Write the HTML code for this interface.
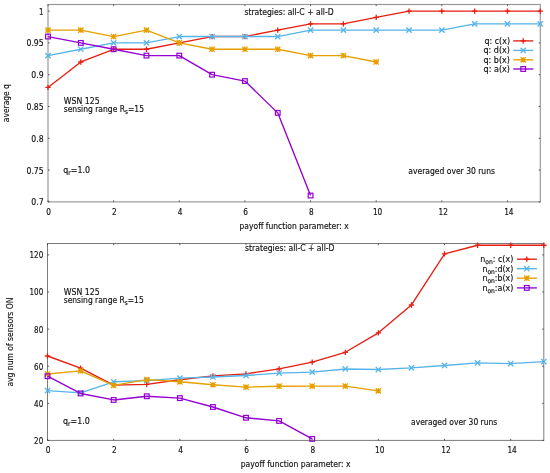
<!DOCTYPE html>
<html><head><meta charset="utf-8"><title>plots</title>
<style>
html,body{margin:0;padding:0;background:#fff;}
svg{display:block;}
text{font-family:"DejaVu Sans Condensed","Liberation Sans",sans-serif;font-size:8.8px;fill:#111;stroke:#111;stroke-width:0.15px;}
</style></head><body>
<svg width="550" height="473" viewBox="0 0 550 473">
<rect width="550" height="473" fill="#fff"/>
<rect x="48.0" y="4.5" width="492.30" height="197.40" fill="none" stroke="#969696" stroke-width="1.15"/>
<text x="43.60" y="205.30" text-anchor="end" textLength="12.30" lengthAdjust="spacingAndGlyphs">0.7</text>
<text x="43.60" y="173.50" text-anchor="end" textLength="17.10" lengthAdjust="spacingAndGlyphs">0.75</text>
<text x="43.60" y="141.70" text-anchor="end" textLength="12.30" lengthAdjust="spacingAndGlyphs">0.8</text>
<text x="43.60" y="109.90" text-anchor="end" textLength="17.10" lengthAdjust="spacingAndGlyphs">0.85</text>
<text x="43.60" y="78.10" text-anchor="end" textLength="12.30" lengthAdjust="spacingAndGlyphs">0.9</text>
<text x="43.60" y="46.30" text-anchor="end" textLength="17.10" lengthAdjust="spacingAndGlyphs">0.95</text>
<text x="43.60" y="14.50" text-anchor="end" textLength="4.50" lengthAdjust="spacingAndGlyphs">1</text>
<text x="48.70" y="214.60" text-anchor="middle" textLength="4.70" lengthAdjust="spacingAndGlyphs">0</text>
<text x="114.34" y="214.60" text-anchor="middle" textLength="4.70" lengthAdjust="spacingAndGlyphs">2</text>
<text x="179.98" y="214.60" text-anchor="middle" textLength="4.70" lengthAdjust="spacingAndGlyphs">4</text>
<text x="245.62" y="214.60" text-anchor="middle" textLength="4.70" lengthAdjust="spacingAndGlyphs">6</text>
<text x="311.26" y="214.60" text-anchor="middle" textLength="4.70" lengthAdjust="spacingAndGlyphs">8</text>
<text x="377.60" y="214.60" text-anchor="middle" textLength="9.40" lengthAdjust="spacingAndGlyphs">10</text>
<text x="443.24" y="214.60" text-anchor="middle" textLength="9.40" lengthAdjust="spacingAndGlyphs">12</text>
<text x="508.88" y="214.60" text-anchor="middle" textLength="9.40" lengthAdjust="spacingAndGlyphs">14</text>
<path d="M48.0 201.90h1.6M540.3 201.90h-1.6M48.0 170.10h1.6M540.3 170.10h-1.6M48.0 138.30h1.6M540.3 138.30h-1.6M48.0 106.50h1.6M540.3 106.50h-1.6M48.0 74.70h1.6M540.3 74.70h-1.6M48.0 42.90h1.6M540.3 42.90h-1.6M48.0 11.10h1.6M540.3 11.10h-1.6M48.00 201.9v-1.6M48.00 4.5v1.6M113.64 201.9v-1.6M113.64 4.5v1.6M179.28 201.9v-1.6M179.28 4.5v1.6M244.92 201.9v-1.6M244.92 4.5v1.6M310.56 201.9v-1.6M310.56 4.5v1.6M376.20 201.9v-1.6M376.20 4.5v1.6M441.84 201.9v-1.6M441.84 4.5v1.6M507.48 201.9v-1.6M507.48 4.5v1.6" stroke="#333" stroke-width="0.8" fill="none"/>
<path d="M48.00 87.42L80.82 61.98L113.64 49.26L146.46 49.26L179.28 42.90L212.10 36.54L244.92 36.54L277.74 30.18L310.56 23.82L343.38 23.82L376.20 17.46L409.02 11.10L441.84 11.10L474.66 11.10L507.48 11.10L540.30 11.10" stroke="#E51E10" stroke-width="1.35" fill="none" stroke-linejoin="round"/>
<path d="M45.35 87.42H50.65M48.00 84.77V90.07" stroke="#E51E10" stroke-width="1.3" fill="none"/>
<path d="M78.17 61.98H83.47M80.82 59.33V64.63" stroke="#E51E10" stroke-width="1.3" fill="none"/>
<path d="M110.99 49.26H116.29M113.64 46.61V51.91" stroke="#E51E10" stroke-width="1.3" fill="none"/>
<path d="M143.81 49.26H149.11M146.46 46.61V51.91" stroke="#E51E10" stroke-width="1.3" fill="none"/>
<path d="M176.63 42.90H181.93M179.28 40.25V45.55" stroke="#E51E10" stroke-width="1.3" fill="none"/>
<path d="M209.45 36.54H214.75M212.10 33.89V39.19" stroke="#E51E10" stroke-width="1.3" fill="none"/>
<path d="M242.27 36.54H247.57M244.92 33.89V39.19" stroke="#E51E10" stroke-width="1.3" fill="none"/>
<path d="M275.09 30.18H280.39M277.74 27.53V32.83" stroke="#E51E10" stroke-width="1.3" fill="none"/>
<path d="M307.91 23.82H313.21M310.56 21.17V26.47" stroke="#E51E10" stroke-width="1.3" fill="none"/>
<path d="M340.73 23.82H346.03M343.38 21.17V26.47" stroke="#E51E10" stroke-width="1.3" fill="none"/>
<path d="M373.55 17.46H378.85M376.20 14.81V20.11" stroke="#E51E10" stroke-width="1.3" fill="none"/>
<path d="M406.37 11.10H411.67M409.02 8.45V13.75" stroke="#E51E10" stroke-width="1.3" fill="none"/>
<path d="M439.19 11.10H444.49M441.84 8.45V13.75" stroke="#E51E10" stroke-width="1.3" fill="none"/>
<path d="M472.01 11.10H477.31M474.66 8.45V13.75" stroke="#E51E10" stroke-width="1.3" fill="none"/>
<path d="M504.83 11.10H510.13M507.48 8.45V13.75" stroke="#E51E10" stroke-width="1.3" fill="none"/>
<path d="M537.65 11.10H542.95M540.30 8.45V13.75" stroke="#E51E10" stroke-width="1.3" fill="none"/>
<path d="M48.00 55.62L80.82 49.26L113.64 42.90L146.46 42.90L179.28 36.54L212.10 36.54L244.92 36.54L277.74 36.54L310.56 30.18L343.38 30.18L376.20 30.18L409.02 30.18L441.84 30.18L474.66 23.82L507.48 23.82L540.30 23.82" stroke="#56B4E9" stroke-width="1.35" fill="none" stroke-linejoin="round"/>
<path d="M45.35 52.97L50.65 58.27M45.35 58.27L50.65 52.97" stroke="#56B4E9" stroke-width="1.3" fill="none"/>
<path d="M78.17 46.61L83.47 51.91M78.17 51.91L83.47 46.61" stroke="#56B4E9" stroke-width="1.3" fill="none"/>
<path d="M110.99 40.25L116.29 45.55M110.99 45.55L116.29 40.25" stroke="#56B4E9" stroke-width="1.3" fill="none"/>
<path d="M143.81 40.25L149.11 45.55M143.81 45.55L149.11 40.25" stroke="#56B4E9" stroke-width="1.3" fill="none"/>
<path d="M176.63 33.89L181.93 39.19M176.63 39.19L181.93 33.89" stroke="#56B4E9" stroke-width="1.3" fill="none"/>
<path d="M209.45 33.89L214.75 39.19M209.45 39.19L214.75 33.89" stroke="#56B4E9" stroke-width="1.3" fill="none"/>
<path d="M242.27 33.89L247.57 39.19M242.27 39.19L247.57 33.89" stroke="#56B4E9" stroke-width="1.3" fill="none"/>
<path d="M275.09 33.89L280.39 39.19M275.09 39.19L280.39 33.89" stroke="#56B4E9" stroke-width="1.3" fill="none"/>
<path d="M307.91 27.53L313.21 32.83M307.91 32.83L313.21 27.53" stroke="#56B4E9" stroke-width="1.3" fill="none"/>
<path d="M340.73 27.53L346.03 32.83M340.73 32.83L346.03 27.53" stroke="#56B4E9" stroke-width="1.3" fill="none"/>
<path d="M373.55 27.53L378.85 32.83M373.55 32.83L378.85 27.53" stroke="#56B4E9" stroke-width="1.3" fill="none"/>
<path d="M406.37 27.53L411.67 32.83M406.37 32.83L411.67 27.53" stroke="#56B4E9" stroke-width="1.3" fill="none"/>
<path d="M439.19 27.53L444.49 32.83M439.19 32.83L444.49 27.53" stroke="#56B4E9" stroke-width="1.3" fill="none"/>
<path d="M472.01 21.17L477.31 26.47M472.01 26.47L477.31 21.17" stroke="#56B4E9" stroke-width="1.3" fill="none"/>
<path d="M504.83 21.17L510.13 26.47M504.83 26.47L510.13 21.17" stroke="#56B4E9" stroke-width="1.3" fill="none"/>
<path d="M537.65 21.17L542.95 26.47M537.65 26.47L542.95 21.17" stroke="#56B4E9" stroke-width="1.3" fill="none"/>
<path d="M48.00 30.18L80.82 30.18L113.64 36.54L146.46 30.18L179.28 42.90L212.10 49.26L244.92 49.26L277.74 49.26L310.56 55.62L343.38 55.62L376.20 61.98" stroke="#E69F00" stroke-width="1.35" fill="none" stroke-linejoin="round"/>
<path d="M45.35 30.18H50.65M48.00 27.53V32.83M45.35 27.53L50.65 32.83M45.35 32.83L50.65 27.53" stroke="#E69F00" stroke-width="1.3" fill="none"/>
<path d="M78.17 30.18H83.47M80.82 27.53V32.83M78.17 27.53L83.47 32.83M78.17 32.83L83.47 27.53" stroke="#E69F00" stroke-width="1.3" fill="none"/>
<path d="M110.99 36.54H116.29M113.64 33.89V39.19M110.99 33.89L116.29 39.19M110.99 39.19L116.29 33.89" stroke="#E69F00" stroke-width="1.3" fill="none"/>
<path d="M143.81 30.18H149.11M146.46 27.53V32.83M143.81 27.53L149.11 32.83M143.81 32.83L149.11 27.53" stroke="#E69F00" stroke-width="1.3" fill="none"/>
<path d="M176.63 42.90H181.93M179.28 40.25V45.55M176.63 40.25L181.93 45.55M176.63 45.55L181.93 40.25" stroke="#E69F00" stroke-width="1.3" fill="none"/>
<path d="M209.45 49.26H214.75M212.10 46.61V51.91M209.45 46.61L214.75 51.91M209.45 51.91L214.75 46.61" stroke="#E69F00" stroke-width="1.3" fill="none"/>
<path d="M242.27 49.26H247.57M244.92 46.61V51.91M242.27 46.61L247.57 51.91M242.27 51.91L247.57 46.61" stroke="#E69F00" stroke-width="1.3" fill="none"/>
<path d="M275.09 49.26H280.39M277.74 46.61V51.91M275.09 46.61L280.39 51.91M275.09 51.91L280.39 46.61" stroke="#E69F00" stroke-width="1.3" fill="none"/>
<path d="M307.91 55.62H313.21M310.56 52.97V58.27M307.91 52.97L313.21 58.27M307.91 58.27L313.21 52.97" stroke="#E69F00" stroke-width="1.3" fill="none"/>
<path d="M340.73 55.62H346.03M343.38 52.97V58.27M340.73 52.97L346.03 58.27M340.73 58.27L346.03 52.97" stroke="#E69F00" stroke-width="1.3" fill="none"/>
<path d="M373.55 61.98H378.85M376.20 59.33V64.63M373.55 59.33L378.85 64.63M373.55 64.63L378.85 59.33" stroke="#E69F00" stroke-width="1.3" fill="none"/>
<path d="M48.00 36.54L80.82 42.90L113.64 49.26L146.46 55.62L179.28 55.62L212.10 74.70L244.92 81.06L277.74 112.86L310.56 195.54" stroke="#9400D3" stroke-width="1.35" fill="none" stroke-linejoin="round"/>
<rect x="45.65" y="34.19" width="4.70" height="4.70" stroke="#9400D3" stroke-width="1.2" fill="none"/>
<rect x="78.47" y="40.55" width="4.70" height="4.70" stroke="#9400D3" stroke-width="1.2" fill="none"/>
<rect x="111.29" y="46.91" width="4.70" height="4.70" stroke="#9400D3" stroke-width="1.2" fill="none"/>
<rect x="144.11" y="53.27" width="4.70" height="4.70" stroke="#9400D3" stroke-width="1.2" fill="none"/>
<rect x="176.93" y="53.27" width="4.70" height="4.70" stroke="#9400D3" stroke-width="1.2" fill="none"/>
<rect x="209.75" y="72.35" width="4.70" height="4.70" stroke="#9400D3" stroke-width="1.2" fill="none"/>
<rect x="242.57" y="78.71" width="4.70" height="4.70" stroke="#9400D3" stroke-width="1.2" fill="none"/>
<rect x="275.39" y="110.51" width="4.70" height="4.70" stroke="#9400D3" stroke-width="1.2" fill="none"/>
<rect x="308.21" y="193.19" width="4.70" height="4.70" stroke="#9400D3" stroke-width="1.2" fill="none"/>
<text x="244.40" y="14.55" textLength="89.20" lengthAdjust="spacingAndGlyphs">strategies: all-C + all-D</text>
<text x="63.70" y="103.65" textLength="36.00" lengthAdjust="spacingAndGlyphs">WSN 125</text>
<text x="63.70" y="111.85" textLength="80.30" lengthAdjust="spacingAndGlyphs">sensing range R<tspan font-size="6.6" dy="1.9">s</tspan><tspan dy="-1.9">=15</tspan></text>
<text x="63.30" y="173.25" textLength="26.70" lengthAdjust="spacingAndGlyphs">q<tspan font-size="6.6" dy="1.9">r</tspan><tspan dy="-1.9">=1.0</tspan></text>
<text x="408.30" y="173.55" textLength="86.70" lengthAdjust="spacingAndGlyphs">averaged over 30 runs</text>
<text x="239.50" y="228.95" textLength="109.20" lengthAdjust="spacingAndGlyphs">payoff function parameter: x</text>
<text transform="translate(8.90,122.20) rotate(-90)" textLength="38.10" lengthAdjust="spacingAndGlyphs">average q</text>
<text x="510.00" y="43.90" text-anchor="end" textLength="25.50" lengthAdjust="spacingAndGlyphs">q: c(x)</text>
<path d="M513.2 40.90H533.3" stroke="#E51E10" stroke-width="1.35"/>
<path d="M520.55 40.90H525.85M523.20 38.25V43.55" stroke="#E51E10" stroke-width="1.3" fill="none"/>
<text x="510.00" y="53.40" text-anchor="end" textLength="26.50" lengthAdjust="spacingAndGlyphs">q: d(x)</text>
<path d="M513.2 50.40H533.3" stroke="#56B4E9" stroke-width="1.35"/>
<path d="M520.55 47.75L525.85 53.05M520.55 53.05L525.85 47.75" stroke="#56B4E9" stroke-width="1.3" fill="none"/>
<text x="510.00" y="62.80" text-anchor="end" textLength="26.50" lengthAdjust="spacingAndGlyphs">q: b(x)</text>
<path d="M513.2 59.80H533.3" stroke="#E69F00" stroke-width="1.35"/>
<path d="M520.55 59.80H525.85M523.20 57.15V62.45M520.55 57.15L525.85 62.45M520.55 62.45L525.85 57.15" stroke="#E69F00" stroke-width="1.3" fill="none"/>
<text x="510.00" y="72.00" text-anchor="end" textLength="26.50" lengthAdjust="spacingAndGlyphs">q: a(x)</text>
<path d="M513.2 69.00H533.3" stroke="#9400D3" stroke-width="1.35"/>
<rect x="520.85" y="66.65" width="4.70" height="4.70" stroke="#9400D3" stroke-width="1.2" fill="none"/>
<rect x="47.5" y="243.5" width="496.30" height="196.90" fill="none" stroke="#7c7c7c" stroke-width="1.0"/>
<text x="43.20" y="443.80" text-anchor="end" textLength="9.10" lengthAdjust="spacingAndGlyphs">20</text>
<text x="43.20" y="406.70" text-anchor="end" textLength="9.10" lengthAdjust="spacingAndGlyphs">40</text>
<text x="43.20" y="369.60" text-anchor="end" textLength="9.10" lengthAdjust="spacingAndGlyphs">60</text>
<text x="43.20" y="332.50" text-anchor="end" textLength="9.10" lengthAdjust="spacingAndGlyphs">80</text>
<text x="43.20" y="295.40" text-anchor="end" textLength="13.70" lengthAdjust="spacingAndGlyphs">100</text>
<text x="43.20" y="258.30" text-anchor="end" textLength="13.70" lengthAdjust="spacingAndGlyphs">120</text>
<text x="48.20" y="453.30" text-anchor="middle" textLength="4.70" lengthAdjust="spacingAndGlyphs">0</text>
<text x="114.37" y="453.30" text-anchor="middle" textLength="4.70" lengthAdjust="spacingAndGlyphs">2</text>
<text x="180.55" y="453.30" text-anchor="middle" textLength="4.70" lengthAdjust="spacingAndGlyphs">4</text>
<text x="246.72" y="453.30" text-anchor="middle" textLength="4.70" lengthAdjust="spacingAndGlyphs">6</text>
<text x="312.89" y="453.30" text-anchor="middle" textLength="4.70" lengthAdjust="spacingAndGlyphs">8</text>
<text x="379.77" y="453.30" text-anchor="middle" textLength="9.40" lengthAdjust="spacingAndGlyphs">10</text>
<text x="445.94" y="453.30" text-anchor="middle" textLength="9.40" lengthAdjust="spacingAndGlyphs">12</text>
<text x="512.11" y="453.30" text-anchor="middle" textLength="9.40" lengthAdjust="spacingAndGlyphs">14</text>
<path d="M47.5 440.40h1.6M543.8 440.40h-1.6M47.5 403.30h1.6M543.8 403.30h-1.6M47.5 366.20h1.6M543.8 366.20h-1.6M47.5 329.10h1.6M543.8 329.10h-1.6M47.5 292.00h1.6M543.8 292.00h-1.6M47.5 254.90h1.6M543.8 254.90h-1.6M47.50 440.4v-1.6M47.50 243.5v1.6M113.67 440.4v-1.6M113.67 243.5v1.6M179.85 440.4v-1.6M179.85 243.5v1.6M246.02 440.4v-1.6M246.02 243.5v1.6M312.19 440.4v-1.6M312.19 243.5v1.6M378.37 440.4v-1.6M378.37 243.5v1.6M444.54 440.4v-1.6M444.54 243.5v1.6M510.71 440.4v-1.6M510.71 243.5v1.6" stroke="#333" stroke-width="0.8" fill="none"/>
<path d="M47.50 356.00L80.59 368.05L113.67 385.12L146.76 384.38L179.85 379.74L212.93 375.85L246.02 373.81L279.11 368.80L312.19 362.12L345.28 352.29L378.37 332.81L411.45 304.99L444.54 253.97L477.63 245.25L510.71 245.25L543.80 245.25" stroke="#E51E10" stroke-width="1.35" fill="none" stroke-linejoin="round"/>
<path d="M44.85 356.00H50.15M47.50 353.35V358.65" stroke="#E51E10" stroke-width="1.3" fill="none"/>
<path d="M77.94 368.05H83.24M80.59 365.40V370.70" stroke="#E51E10" stroke-width="1.3" fill="none"/>
<path d="M111.02 385.12H116.32M113.67 382.47V387.77" stroke="#E51E10" stroke-width="1.3" fill="none"/>
<path d="M144.11 384.38H149.41M146.76 381.73V387.03" stroke="#E51E10" stroke-width="1.3" fill="none"/>
<path d="M177.20 379.74H182.50M179.85 377.09V382.39" stroke="#E51E10" stroke-width="1.3" fill="none"/>
<path d="M210.28 375.85H215.58M212.93 373.20V378.50" stroke="#E51E10" stroke-width="1.3" fill="none"/>
<path d="M243.37 373.81H248.67M246.02 371.16V376.46" stroke="#E51E10" stroke-width="1.3" fill="none"/>
<path d="M276.46 368.80H281.76M279.11 366.15V371.45" stroke="#E51E10" stroke-width="1.3" fill="none"/>
<path d="M309.54 362.12H314.84M312.19 359.47V364.77" stroke="#E51E10" stroke-width="1.3" fill="none"/>
<path d="M342.63 352.29H347.93M345.28 349.64V354.94" stroke="#E51E10" stroke-width="1.3" fill="none"/>
<path d="M375.72 332.81H381.02M378.37 330.16V335.46" stroke="#E51E10" stroke-width="1.3" fill="none"/>
<path d="M408.80 304.99H414.10M411.45 302.34V307.63" stroke="#E51E10" stroke-width="1.3" fill="none"/>
<path d="M441.89 253.97H447.19M444.54 251.32V256.62" stroke="#E51E10" stroke-width="1.3" fill="none"/>
<path d="M474.98 245.25H480.28M477.63 242.60V247.90" stroke="#E51E10" stroke-width="1.3" fill="none"/>
<path d="M508.06 245.25H513.36M510.71 242.60V247.90" stroke="#E51E10" stroke-width="1.3" fill="none"/>
<path d="M541.15 245.25H546.45M543.80 242.60V247.90" stroke="#E51E10" stroke-width="1.3" fill="none"/>
<path d="M47.50 390.69L80.59 392.91L113.67 381.78L146.76 380.67L179.85 378.07L212.93 376.96L246.02 375.47L279.11 373.06L312.19 372.14L345.28 368.98L378.37 369.54L411.45 367.87L444.54 365.46L477.63 362.86L510.71 363.60L543.80 361.56" stroke="#56B4E9" stroke-width="1.35" fill="none" stroke-linejoin="round"/>
<path d="M44.85 388.04L50.15 393.34M44.85 393.34L50.15 388.04" stroke="#56B4E9" stroke-width="1.3" fill="none"/>
<path d="M77.94 390.26L83.24 395.56M77.94 395.56L83.24 390.26" stroke="#56B4E9" stroke-width="1.3" fill="none"/>
<path d="M111.02 379.13L116.32 384.43M111.02 384.43L116.32 379.13" stroke="#56B4E9" stroke-width="1.3" fill="none"/>
<path d="M144.11 378.02L149.41 383.32M144.11 383.32L149.41 378.02" stroke="#56B4E9" stroke-width="1.3" fill="none"/>
<path d="M177.20 375.42L182.50 380.72M177.20 380.72L182.50 375.42" stroke="#56B4E9" stroke-width="1.3" fill="none"/>
<path d="M210.28 374.31L215.58 379.61M210.28 379.61L215.58 374.31" stroke="#56B4E9" stroke-width="1.3" fill="none"/>
<path d="M243.37 372.82L248.67 378.12M243.37 378.12L248.67 372.82" stroke="#56B4E9" stroke-width="1.3" fill="none"/>
<path d="M276.46 370.41L281.76 375.71M276.46 375.71L281.76 370.41" stroke="#56B4E9" stroke-width="1.3" fill="none"/>
<path d="M309.54 369.49L314.84 374.79M309.54 374.79L314.84 369.49" stroke="#56B4E9" stroke-width="1.3" fill="none"/>
<path d="M342.63 366.33L347.93 371.63M342.63 371.63L347.93 366.33" stroke="#56B4E9" stroke-width="1.3" fill="none"/>
<path d="M375.72 366.89L381.02 372.19M375.72 372.19L381.02 366.89" stroke="#56B4E9" stroke-width="1.3" fill="none"/>
<path d="M408.80 365.22L414.10 370.52M408.80 370.52L414.10 365.22" stroke="#56B4E9" stroke-width="1.3" fill="none"/>
<path d="M441.89 362.81L447.19 368.11M441.89 368.11L447.19 362.81" stroke="#56B4E9" stroke-width="1.3" fill="none"/>
<path d="M474.98 360.21L480.28 365.51M474.98 365.51L480.28 360.21" stroke="#56B4E9" stroke-width="1.3" fill="none"/>
<path d="M508.06 360.95L513.36 366.25M508.06 366.25L513.36 360.95" stroke="#56B4E9" stroke-width="1.3" fill="none"/>
<path d="M541.15 358.91L546.45 364.21M541.15 364.21L546.45 358.91" stroke="#56B4E9" stroke-width="1.3" fill="none"/>
<path d="M47.50 373.99L80.59 370.84L113.67 385.31L146.76 379.56L179.85 381.78L212.93 384.75L246.02 387.16L279.11 386.23L312.19 386.05L345.28 386.05L378.37 390.87" stroke="#E69F00" stroke-width="1.35" fill="none" stroke-linejoin="round"/>
<path d="M44.85 373.99H50.15M47.50 371.34V376.64M44.85 371.34L50.15 376.64M44.85 376.64L50.15 371.34" stroke="#E69F00" stroke-width="1.3" fill="none"/>
<path d="M77.94 370.84H83.24M80.59 368.19V373.49M77.94 368.19L83.24 373.49M77.94 373.49L83.24 368.19" stroke="#E69F00" stroke-width="1.3" fill="none"/>
<path d="M111.02 385.31H116.32M113.67 382.66V387.96M111.02 382.66L116.32 387.96M111.02 387.96L116.32 382.66" stroke="#E69F00" stroke-width="1.3" fill="none"/>
<path d="M144.11 379.56H149.41M146.76 376.91V382.21M144.11 376.91L149.41 382.21M144.11 382.21L149.41 376.91" stroke="#E69F00" stroke-width="1.3" fill="none"/>
<path d="M177.20 381.78H182.50M179.85 379.13V384.43M177.20 379.13L182.50 384.43M177.20 384.43L182.50 379.13" stroke="#E69F00" stroke-width="1.3" fill="none"/>
<path d="M210.28 384.75H215.58M212.93 382.10V387.40M210.28 382.10L215.58 387.40M210.28 387.40L215.58 382.10" stroke="#E69F00" stroke-width="1.3" fill="none"/>
<path d="M243.37 387.16H248.67M246.02 384.51V389.81M243.37 384.51L248.67 389.81M243.37 389.81L248.67 384.51" stroke="#E69F00" stroke-width="1.3" fill="none"/>
<path d="M276.46 386.23H281.76M279.11 383.58V388.88M276.46 383.58L281.76 388.88M276.46 388.88L281.76 383.58" stroke="#E69F00" stroke-width="1.3" fill="none"/>
<path d="M309.54 386.05H314.84M312.19 383.40V388.70M309.54 383.40L314.84 388.70M309.54 388.70L314.84 383.40" stroke="#E69F00" stroke-width="1.3" fill="none"/>
<path d="M342.63 386.05H347.93M345.28 383.40V388.70M342.63 383.40L347.93 388.70M342.63 388.70L347.93 383.40" stroke="#E69F00" stroke-width="1.3" fill="none"/>
<path d="M375.72 390.87H381.02M378.37 388.22V393.52M375.72 388.22L381.02 393.52M375.72 393.52L381.02 388.22" stroke="#E69F00" stroke-width="1.3" fill="none"/>
<path d="M47.50 376.22L80.59 393.47L113.67 399.96L146.76 396.25L179.85 398.11L212.93 407.01L246.02 417.77L279.11 420.92L312.19 438.92" stroke="#9400D3" stroke-width="1.35" fill="none" stroke-linejoin="round"/>
<rect x="45.15" y="373.87" width="4.70" height="4.70" stroke="#9400D3" stroke-width="1.2" fill="none"/>
<rect x="78.24" y="391.12" width="4.70" height="4.70" stroke="#9400D3" stroke-width="1.2" fill="none"/>
<rect x="111.32" y="397.61" width="4.70" height="4.70" stroke="#9400D3" stroke-width="1.2" fill="none"/>
<rect x="144.41" y="393.90" width="4.70" height="4.70" stroke="#9400D3" stroke-width="1.2" fill="none"/>
<rect x="177.50" y="395.76" width="4.70" height="4.70" stroke="#9400D3" stroke-width="1.2" fill="none"/>
<rect x="210.58" y="404.66" width="4.70" height="4.70" stroke="#9400D3" stroke-width="1.2" fill="none"/>
<rect x="243.67" y="415.42" width="4.70" height="4.70" stroke="#9400D3" stroke-width="1.2" fill="none"/>
<rect x="276.76" y="418.57" width="4.70" height="4.70" stroke="#9400D3" stroke-width="1.2" fill="none"/>
<rect x="309.84" y="436.57" width="4.70" height="4.70" stroke="#9400D3" stroke-width="1.2" fill="none"/>
<text x="245.10" y="251.05" textLength="89.40" lengthAdjust="spacingAndGlyphs">strategies: all-C + all-D</text>
<text x="63.70" y="295.25" textLength="36.00" lengthAdjust="spacingAndGlyphs">WSN 125</text>
<text x="63.70" y="303.45" textLength="80.00" lengthAdjust="spacingAndGlyphs">sensing range R<tspan font-size="6.6" dy="1.9">s</tspan><tspan dy="-1.9">=15</tspan></text>
<text x="63.10" y="424.45" textLength="26.60" lengthAdjust="spacingAndGlyphs">q<tspan font-size="6.6" dy="1.9">r</tspan><tspan dy="-1.9">=1.0</tspan></text>
<text x="411.00" y="425.35" textLength="86.30" lengthAdjust="spacingAndGlyphs">averaged over 30 runs</text>
<text x="240.70" y="466.75" textLength="109.90" lengthAdjust="spacingAndGlyphs">payoff function parameter: x</text>
<text transform="translate(13.10,386.60) rotate(-90)" textLength="89.00" lengthAdjust="spacingAndGlyphs">avg num of sensors ON</text>
<text x="513.30" y="262.20" text-anchor="end" textLength="33.00" lengthAdjust="spacingAndGlyphs">n<tspan font-size="6.6" dy="1.9">on</tspan><tspan dy="-1.9">: c(x)</tspan></text>
<path d="M517.0 259.20H536.9" stroke="#E51E10" stroke-width="1.35"/>
<path d="M524.15 259.20H529.45M526.80 256.55V261.85" stroke="#E51E10" stroke-width="1.3" fill="none"/>
<text x="513.30" y="271.70" text-anchor="end" textLength="30.90" lengthAdjust="spacingAndGlyphs">n<tspan font-size="6.6" dy="1.9">on</tspan><tspan dy="-1.9">:d(x)</tspan></text>
<path d="M517.0 268.70H536.9" stroke="#56B4E9" stroke-width="1.35"/>
<path d="M524.15 266.05L529.45 271.35M524.15 271.35L529.45 266.05" stroke="#56B4E9" stroke-width="1.3" fill="none"/>
<text x="513.30" y="281.20" text-anchor="end" textLength="30.90" lengthAdjust="spacingAndGlyphs">n<tspan font-size="6.6" dy="1.9">on</tspan><tspan dy="-1.9">:b(x)</tspan></text>
<path d="M517.0 278.20H536.9" stroke="#E69F00" stroke-width="1.35"/>
<path d="M524.15 278.20H529.45M526.80 275.55V280.85M524.15 275.55L529.45 280.85M524.15 280.85L529.45 275.55" stroke="#E69F00" stroke-width="1.3" fill="none"/>
<text x="513.30" y="290.90" text-anchor="end" textLength="30.90" lengthAdjust="spacingAndGlyphs">n<tspan font-size="6.6" dy="1.9">on</tspan><tspan dy="-1.9">:a(x)</tspan></text>
<path d="M517.0 287.90H536.9" stroke="#9400D3" stroke-width="1.35"/>
<rect x="524.45" y="285.55" width="4.70" height="4.70" stroke="#9400D3" stroke-width="1.2" fill="none"/>
</svg>
</body></html>
